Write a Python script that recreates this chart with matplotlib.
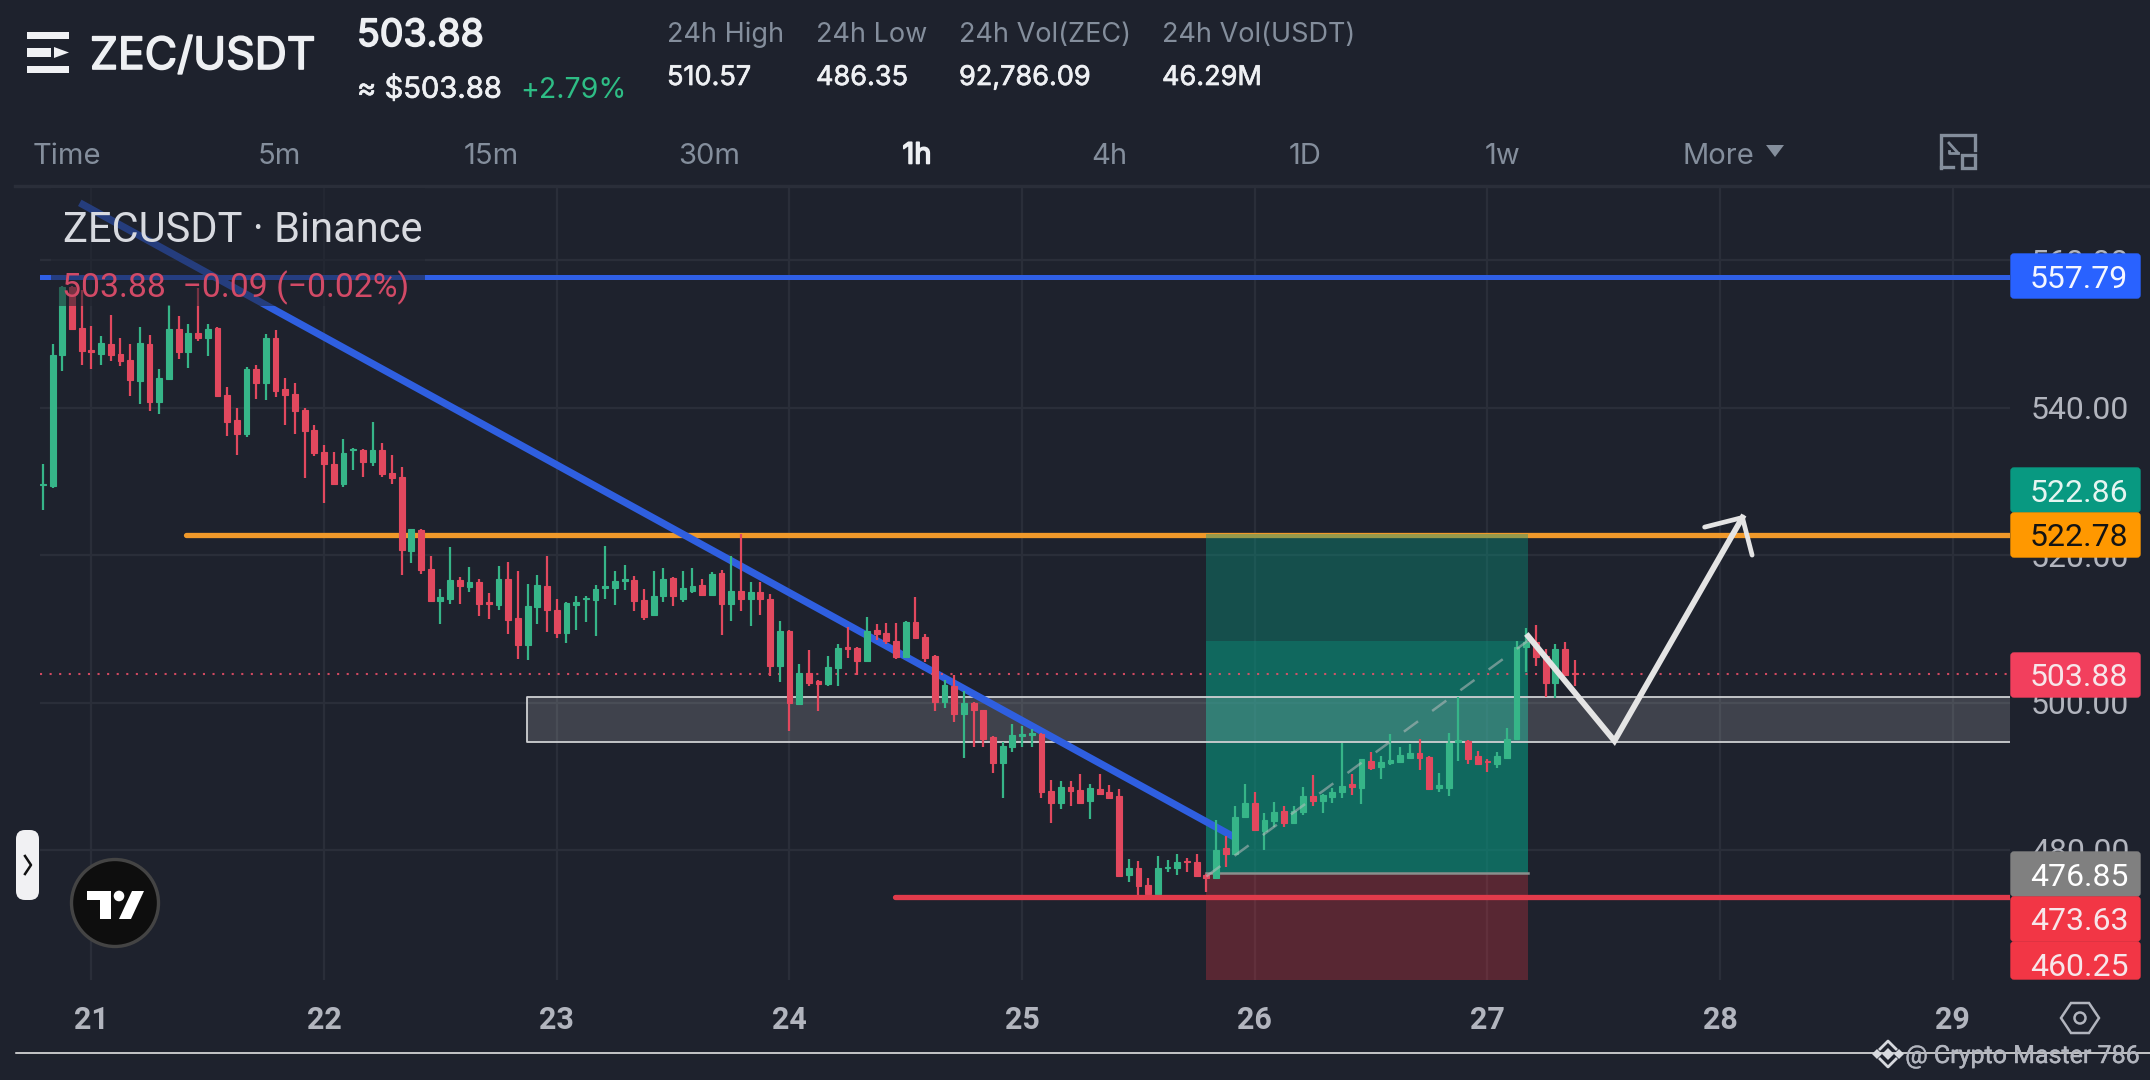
import matplotlib
matplotlib.use("Agg")
import matplotlib.pyplot as plt
import numpy as np
from matplotlib.patches import Rectangle, FancyBboxPatch, Circle, Polygon
import matplotlib.patheffects as pe

# ---------- candle data (hours since day 21 00:00, 1h candles) ----------
first_hour = -5
opens = [529.5,529.4,547.1,556.4,550.8,547.8,547.3,548.7,547.3,546.5,543.6,548.7,540.8,543.9,550.7,547.6,550.1,549.5,550.8,541.7,
538.3,536.5,545.2,543.4,549.5,542.5,541.9,539.7,537.0,534.0,532.4,529.7,534.3,534.2,532.7,534.3,531.2,
530.6,520.6,523.4,518.1,513.8,514.1,516.6,515.7,516.4,513.7,513.2,516.8,511.5,507.8,513.0,515.8,512.6,509.4,513.3,514.0,513.9,515.6,515.6,516.5,
516.6,513.9,511.9,514.4,516.9,514.1,515.2,516.0,514.6,517.6,513.4,515.2,514.1,515.0,514.1,505.0,509.75,499.8,504.0,502.9,502.5,504.7,507.5,507.35,505.6,
509.8,509.4,508.4,506.2,510.9,508.9,506.3,500.1,502.2,498.5,500.0,499.0,495.3,491.8,493.9,495.5,495.6,495.7,488.0,486.3,488.6,488.1,486.6,488.3,487.9,487.3,
476.6,477.5,475.2,474.0,477.5,477.5,478.5,478.3,476.6,476.2,480.2,479.5,484.4,486.4,482.6,483.9,485.3,483.7,485.1,487.3,486.7,487.2,487.9,488.9,488.4,492.1,491.3,
491.8,491.9,492.5,493.2,492.6,488.4,488.4,494.7,494.8,492.7,492.1,491.7,492.5,495.1,507.6,508.25,506.3,502.7,507.3,503.95]
highs = [532.4,548.7,556.5,556.5,556.0,551.1,549.7,552.6,549.5,548.6,550.9,549.9,545.3,553.9,552.4,551.4,556.2,551.4,551.0,542.8,
539.9,545.5,545.8,550.0,550.6,544.0,543.3,539.9,537.7,534.9,534.0,535.8,534.5,534.4,538.0,535.2,533.6,
532.0,523.6,523.5,519.9,515.4,521.1,517.0,518.4,516.7,514.8,518.5,519.1,517.9,516.1,517.3,519.9,514.0,513.7,514.5,514.4,516.0,521.2,517.8,518.7,
517.2,515.4,517.8,518.2,517.0,517.8,518.2,516.8,517.7,518.0,519.9,522.8,516.4,516.4,514.7,511.1,509.9,505.2,507.1,503.1,506.3,508.0,510.2,507.6,511.6,
510.7,510.8,510.8,511.1,514.3,509.3,506.4,503.1,503.7,501.5,500.1,499.0,495.5,494.7,497.1,496.8,496.4,495.8,489.5,489.3,489.4,490.3,488.9,490.3,488.8,488.2,
478.8,478.5,476.2,479.2,478.6,479.4,478.9,479.4,476.8,484.1,481.9,485.9,488.9,487.9,485.0,486.5,485.9,485.9,488.6,490.2,487.6,488.4,494.5,490.3,492.4,493.3,492.7,
495.7,494.0,494.4,495.1,492.7,490.4,495.8,500.7,494.9,493.4,492.3,493.3,496.6,508.4,510.1,510.5,507.3,507.9,508.2,505.8]
lows = [526.1,529.1,545.0,550.5,545.8,545.2,545.75,546.3,545.6,541.6,540.5,539.5,539.2,543.9,546.6,545.4,549.1,547.0,541.6,536.1,
533.6,536.0,541.2,541.0,541.4,537.6,536.4,530.4,533.5,527.1,529.5,529.2,531.5,530.6,532.1,530.6,529.6,
517.3,518.9,517.5,513.7,510.7,513.4,513.4,515.0,511.7,511.3,512.5,509.25,505.9,505.8,510.7,509.6,508.8,508.1,509.9,510.9,509.0,514.1,513.2,515.3,
512.4,511.2,511.9,513.6,513.1,513.6,514.8,514.5,514.6,509.2,511.1,512.4,510.4,511.9,503.6,502.8,496.1,499.7,502.2,498.8,502.3,502.2,506.1,503.7,505.5,
508.5,508.0,505.95,506.2,508.7,505.5,498.9,499.2,497.4,492.5,493.9,494.0,490.4,487.0,493.3,493.9,493.9,487.1,483.7,485.6,486.0,486.3,484.2,487.4,486.9,476.5,
475.7,473.7,473.6,473.4,477.0,476.6,477.0,476.5,474.3,476.2,477.7,479.3,484.4,482.6,480.0,483.1,483.1,483.6,484.7,485.9,485.0,486.4,487.1,487.4,486.2,490.9,489.6,
491.5,491.8,492.3,490.8,488.1,487.9,487.3,492.1,491.6,491.5,490.6,491.1,492.4,495.0,504.2,505.0,500.8,500.6,503.6,502.2]
closes = [529.6,547.2,556.4,550.7,547.7,547.6,548.8,547.2,546.3,543.8,548.8,540.8,544.0,550.7,547.5,550.1,549.5,550.7,541.6,538.1,
536.5,545.2,543.4,549.5,542.3,541.7,539.5,536.8,533.8,532.4,529.7,533.8,534.4,532.7,534.3,531.0,530.5,
520.7,523.5,518.0,513.8,514.3,516.6,515.8,516.3,513.4,513.4,516.8,511.2,507.8,513.1,516.0,512.5,509.4,513.5,513.7,514.2,515.4,515.8,516.5,516.8,
513.8,511.6,514.4,516.8,514.4,515.5,515.8,514.6,517.4,513.4,515.2,514.1,515.0,514.0,505.0,509.75,500.0,504.0,502.7,502.5,504.8,507.35,507.3,505.6,509.75,
509.3,508.3,506.2,510.9,508.8,506.1,500.1,502.4,498.5,500.0,499.0,495.0,491.8,494.1,495.6,495.7,495.8,487.8,486.3,488.6,488.0,486.4,488.4,487.6,487.0,476.5,
477.5,475.1,474.0,477.5,477.7,478.3,478.3,476.5,476.2,480.0,479.5,484.5,486.4,482.7,484.1,485.1,483.7,485.3,487.3,486.6,487.5,487.9,488.7,488.6,492.3,491.1,491.9,
492.2,492.9,493.2,492.5,488.2,488.8,494.5,494.9,492.4,491.7,491.9,492.7,495.0,507.6,508.25,506.2,502.7,507.2,503.7,503.88]

# ---------- drawing tools (price levels) ----------
last_price = 503.88
resistance_top = 557.79
target_line = 522.78
stop_line = 473.63
entry_price = 476.85
target_price = 522.86
stop_price = 460.25
position_now = 508.3
zone_low, zone_high = 494.6, 500.75
zone_start = 44.9
pos_start, pos_end = 115.0, 148.2
trend_hours, trend_prices = [-1.2, 117.8], [567.8, 481.8]
orange_start = 9.8
red_start = 82.9
path_hours, path_prices = [148.2, 157.1, 170.3], [509.0, 494.8, 525.1]
head_hours, head_prices = [166.4, 170.3, 171.3], [523.8, 525.1, 520.0]
dash_hours, dash_prices = [115.0, 148.3], [476.4, 508.5]

price_ticks = [480, 500, 520, 540, 560]
day_labels = ['21', '22', '23', '24', '25', '26', '27', '28', '29']
chip_labels = ['557.79', '522.86', '522.78', '503.88', '476.85', '473.63', '460.25']

BG = '#1e222d'; GRID = '#2a2e39'; UP = '#36b588'; DOWN = '#e2485e'
AXT = '#b2b5be'; GREY = '#848e9c'; WHITE = '#eef0f3'

fig = plt.figure(figsize=(21.5, 10.8), dpi=100, facecolor=BG)
W, H = 2150, 1080
L, R, T, B = 40, 2010, 187, 980
ax = fig.add_axes([L/W, 1-B/H, (R-L)/W, (B-T)/H], zorder=1)
ax.set_facecolor(BG)
ax.set_xlim(-5.3, 197.9)
ax.set_ylim(462.35, 569.95)
for s in ax.spines.values():
    s.set_visible(False)
ax.set_axisbelow(True)
ax.grid(True, color=GRID, lw=1.6)
ax.set_xticks(np.arange(len(day_labels))*24)
ax.set_xticklabels(day_labels, fontfamily='Roboto', fontsize=22, color=AXT, fontweight='bold')
ax.yaxis.tick_right()
ax.set_yticks(price_ticks)
ax.set_yticklabels([f'{v:.2f}' for v in price_ticks], fontfamily='Roboto', fontsize=23, color=AXT)
ax.tick_params(axis='x', length=0, pad=18)
ax.tick_params(axis='y', length=0, pad=15)

xmax = ax.get_xlim()[1]; xmin = ax.get_xlim()[0]
# levels
ax.plot([orange_start, xmax], [target_line]*2, color='#f0992a', lw=3.8, zorder=2, solid_capstyle='round')
# position box
ax.add_patch(Rectangle((pos_start, entry_price), pos_end-pos_start, target_price-entry_price, fc='#089981', alpha=0.38, lw=0, zorder=3))
ax.add_patch(Rectangle((pos_start, entry_price), pos_end-pos_start, position_now-entry_price, fc='#089981', alpha=0.34, lw=0, zorder=3))
ax.add_patch(Rectangle((pos_start, stop_price), pos_end-pos_start, entry_price-stop_price, fc='#f23645', alpha=0.28, lw=0, zorder=3))
ax.plot([pos_start, pos_end], [entry_price]*2, color='#8a8f8d', lw=1.8, zorder=3.2)
# white zone
ax.add_patch(Rectangle((zone_start, zone_low), xmax-zone_start, zone_high-zone_low, fc='white', alpha=0.15, lw=0, zorder=3.5))
ax.plot([xmax, zone_start, zone_start, xmax], [zone_high, zone_high, zone_low, zone_low], color='#cfd0d3', lw=1.3, zorder=3.6)
# blue lines
ax.plot([xmin, xmax], [resistance_top]*2, color='#2f5fe6', lw=3.6, zorder=4)
ax.plot(trend_hours, trend_prices, color='#2f5fe0', lw=5.2, zorder=4, solid_capstyle='butt')
# last price dotted
ax.plot([xmin, xmax], [last_price]*2, color='#f2506a', lw=1.5, ls=(0, (1, 3.6)), alpha=0.85, zorder=4.2)

# candles
hours = first_hour + np.arange(len(opens))
o, h, l, c = map(np.array, (opens, highs, lows, closes))
colors = np.where(c >= o, UP, DOWN)
ax.vlines(hours, l, h, colors=colors, lw=1.6, zorder=5)
ax.bar(hours, np.abs(c-o), bottom=np.minimum(o, c), width=0.6, color=colors, edgecolor=colors, lw=0.8, zorder=5.1)

ax.plot(dash_hours, dash_prices, color='#b9bdbd', lw=1.8, alpha=0.55, ls=(0, (7, 7)), zorder=5.5)
ax.plot([red_start, xmax], [stop_line]*2, color='#e23b4b', lw=3.8, zorder=6, solid_capstyle='round')
ax.plot(path_hours, path_prices, color='#e4e4e4', lw=4.2, zorder=7, solid_joinstyle='miter')
ax.plot(head_hours, head_prices, color='#e4e4e4', lw=3.4, zorder=7, solid_capstyle='round', solid_joinstyle='miter')

# ---------- overlay in pixel coordinates for the app chrome ----------
ov = fig.add_axes([0, 0, 1, 1], zorder=2)
ov.set_xlim(0, W); ov.set_ylim(H, 0); ov.axis('off'); ov.patch.set_alpha(0)

# legend backdrop
ov.add_patch(Rectangle((51, 188), 374, 118, fc=BG, alpha=0.55, lw=0, zorder=1))
ov.text(63, 231, 'ZECUSDT · Binance', family='Roboto', fontsize=30, color='#d8dae0', va='center', ha='left', zorder=3)
ov.text(62, 288, '503.88  −0.09 (−0.02%)', family='Roboto', fontsize=24.3, color='#d24a66', va='center', ha='left', zorder=3)

# price chips
chip_cols = ['#2962ff', '#089981', '#ff9800', '#f23f5d', '#808080', '#f23645', '#f23645']
chip_y = [276, 490, 535, 675, 874, 919, 964]
chip_txt = ['#f4f6ff', '#e6f5f1', '#141414', '#f7e6ea', '#ffffff', '#f7e6ea', '#f7e6ea']
for s, col, y, tc in zip(chip_labels, chip_cols, chip_y, chip_txt):
    top, bot = y-23, min(y+23, B)
    ov.add_patch(FancyBboxPatch((2011, top+1), 129, bot-top-2, boxstyle='round,pad=0,rounding_size=3', fc=col, ec=col, lw=1))
    ov.text(2079, y+3, s, family='Roboto', fontsize=23, color=tc, ha='center', va='center')

# header
GF = 'Inter'
ic = '#f0f1f4'
ov.add_patch(Rectangle((27, 32), 42, 7, fc=ic, lw=0))
ov.add_patch(Rectangle((27, 48), 24, 9, fc=ic, lw=0))
ov.add_patch(Polygon([(54, 47), (69, 52.5), (54, 58)], fc=ic, lw=0))
ov.add_patch(Rectangle((27, 66), 42, 7, fc=ic, lw=0))
bold = [pe.withStroke(linewidth=1.2, foreground=WHITE)]
semi = [pe.withStroke(linewidth=0.5, foreground=WHITE)]
ov.text(90, 57, 'ZEC/USDT', family=GF, fontsize=32, color=WHITE, va='center', ha='left', path_effects=bold)
ov.text(357, 36, '503.88', family=GF, fontsize=27, color=WHITE, va='center', ha='left', path_effects=bold)
ov.text(357, 90, '≈ $503.88', family=GF, fontsize=21, color=WHITE, va='center', ha='left', path_effects=semi)
ov.text(520, 90, '+2.79%', family=GF, fontsize=20.5, color='#2ebd85', va='center', ha='left')
stat_x = [667, 816, 959, 1162]
stat_names = ['24h High', '24h Low', '24h Vol(ZEC)', '24h Vol(USDT)']
stat_vals = ['510.57', '486.35', '92,786.09', '46.29M']
for x, n, v in zip(stat_x, stat_names, stat_vals):
    ov.text(x, 35, n, family=GF, fontsize=19.5, color=GREY, va='center', ha='left')
    ov.text(x, 78, v, family=GF, fontsize=19.5, color=WHITE, va='center', ha='left', path_effects=semi)
tabs = ['Time', '5m', '15m', '30m', '1h', '4h', '1D', '1w', 'More']
tab_x = [67, 279, 491, 709, 917, 1109, 1305, 1503, 1718]
for x, t in zip(tab_x, tabs):
    on = t == '1h'
    ov.text(x, 156, t, family=GF, fontsize=21, color=WHITE if on else GREY, ha='center', va='center',
            path_effects=bold if on else None)
ov.add_patch(Polygon([(1766, 145), (1784, 145), (1775, 157)], fc=GREY, lw=0))
# expand icon
ov.plot([1941, 1941, 1975, 1975], [168, 135, 135, 150], color=GREY, lw=2.4, solid_joinstyle='miter')
ov.plot([1941, 1953], [167, 167], color=GREY, lw=2.4)
ov.add_patch(Rectangle((1962, 155), 13, 13, fc='none', ec=GREY, lw=2.4))
ov.plot([1949, 1958], [143, 153], color=GREY, lw=2)
ov.plot([1949, 1949, 1958], [151, 153, 153], color=GREY, lw=2)
ov.plot([15, 2150], [186, 186], color=GRID, lw=2.4, zorder=0)

# left handle and logo
ov.add_patch(FancyBboxPatch((17, 831), 21, 68, boxstyle='round,pad=1,rounding_size=9', fc='#f1f1f3', ec='#f1f1f3', lw=0))
ov.plot([25, 31, 25], [856, 865, 874], color='#111111', lw=1.8)
ov.add_patch(Circle((115, 903), 43.5, fc='#0e0e0e', ec='#444444', lw=2.4))
ov.add_patch(Polygon([(87, 891), (111, 891), (111, 919), (100, 919), (100, 900), (87, 900)], fc='white', lw=0))
ov.add_patch(Circle((119, 896), 5.3, fc='white', lw=0))
ov.add_patch(Polygon([(132, 891), (144, 891), (131, 919), (119, 919)], fc='white', lw=0))

# bottom
cx, cy = 2080, 1018
hx = [cx-19, cx-9, cx+9, cx+19, cx+9, cx-9]
hy = [cy, cy-15, cy-15, cy, cy+15, cy+15]
ov.add_patch(Polygon(list(zip(hx, hy)), fc='none', ec=AXT, lw=1.8))
ov.add_patch(Circle((cx, cy), 5.5, fc='none', ec=AXT, lw=1.8))
ov.plot([16, W], [1053, 1053], color='#f2f2f2', lw=1.1)
ov.text(2140, 1056, '@ Crypto Master 786', family='Roboto', fontsize=18, color=AXT, ha='right', va='center', zorder=3,
        path_effects=[pe.withStroke(linewidth=0.3, foreground=AXT)])
for mx, my, ms in [(1877, 1054, 5), (1899, 1054, 5), (1888, 1054, 6)]:
    ov.plot([mx], [my], marker='D', ms=ms, color='#d7d9de', mew=0)
ov.plot([1880, 1888, 1896], [1049, 1041, 1049], color='#d7d9de', lw=2)
ov.plot([1880, 1888, 1896], [1059, 1067, 1059], color='#d7d9de', lw=2)

fig.savefig('out.png', dpi=100, facecolor=BG)
